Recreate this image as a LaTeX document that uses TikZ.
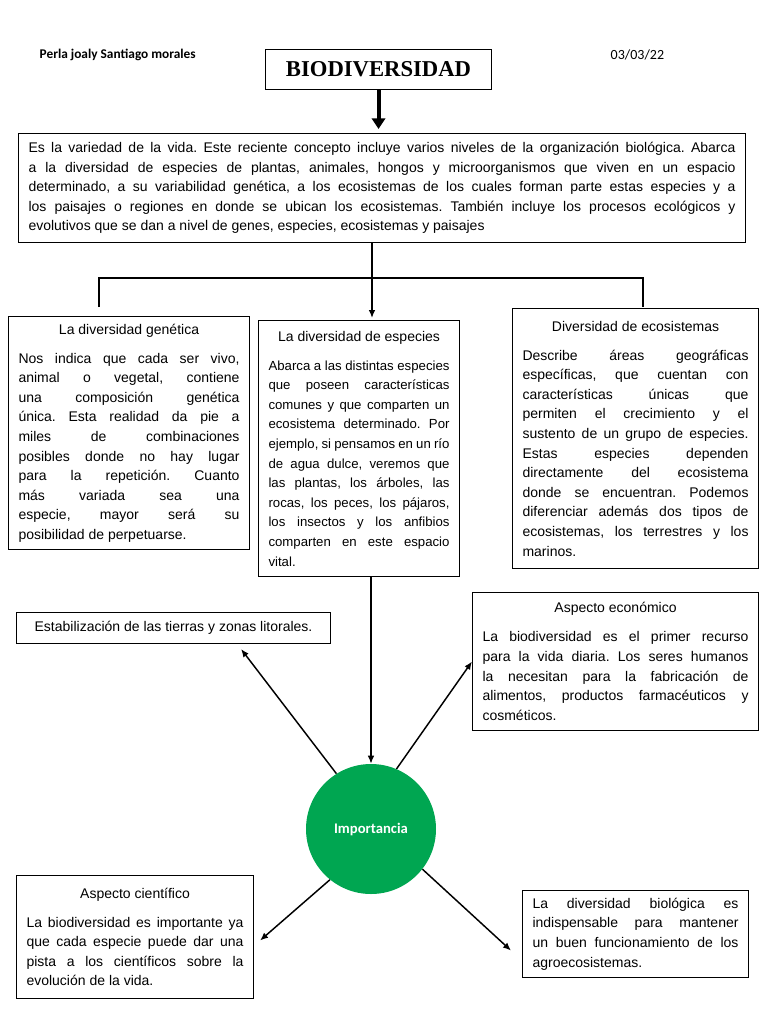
\documentclass[tikz,border=0pt]{standalone}
\usepackage{fontspec}
\setmainfont{Liberation Sans}
\newfontfamily\titlefont{Liberation Serif}
\newfontfamily\headfont{Carlito}
\usetikzlibrary{arrows.meta}
\definecolor{importgreen}{HTML}{00A651}
\hyphenpenalty=10000
\exhyphenpenalty=10000
\frenchspacing
\tikzset{
    text-box/.style = {draw=black, fill=white, line width=0.8pt, rectangle, anchor=north west, inner xsep=7.5pt, inner ysep=2pt, font=\fontsize{10.5}{14.7}\selectfont},
    head-text/.style = {anchor=west, font=\headfont\fontsize{10.5}{12}\selectfont},
    link/.style = {line width=1.1pt},
    link-arrow/.style = {link, -{Latex[length=6pt,width=5pt]}},
}
\newcommand{\boxhead}[1]{{\centering #1\par}\vspace{7pt}}

\begin{document}
\begin{tikzpicture}[x=0.75pt, y=-0.75pt]
\useasboundingbox (0,0) rectangle (768,1024);

\node[head-text, font=\headfont\bfseries\fontsize{10}{12}\selectfont] (author) at (35,55) {Perla joaly Santiago morales};
\node[head-text] (date) at (606,55) {03/03/22};
\node[draw, line width=0.8pt, anchor=north west, minimum width=169.5pt, minimum height=30pt, font=\titlefont\bfseries\fontsize{17}{20}\selectfont] (title) at (265,49) {BIODIVERSIDAD};

\node[text-box, minimum height=81.75pt] (intro) at (18,133) {\begin{minipage}{530.25pt}
    Es la variedad de la vida. Este reciente concepto incluye varios niveles de la organización biológica. Abarca\linebreak
    a la diversidad de especies de plantas, animales, hongos y microorganismos que viven en un espacio\linebreak
    determinado, a su variabilidad genética, a los ecosistemas de los cuales forman parte estas especies y a\linebreak
    los paisajes o regiones en donde se ubican los ecosistemas. También incluye los procesos ecológicos y\linebreak
    evolutivos que se dan a nivel de genes, especies, ecosistemas y paisajes
\end{minipage}};

\node[text-box, minimum height=174.75pt] (genetic) at (8,316) {\begin{minipage}{165.75pt}
    \boxhead{La diversidad genética}
    Nos indica que cada ser vivo,\linebreak animal o vegetal, contiene\linebreak una composición genética\linebreak única. Esta realidad da pie a\linebreak miles de combinaciones\linebreak posibles donde no hay lugar\linebreak para la repetición. Cuanto\linebreak más variada sea una\linebreak especie, mayor será su\linebreak posibilidad de perpetuarse.
\end{minipage}};

\node[text-box, minimum height=192pt, font=\fontsize{9.9}{14.7}\selectfont] (species) at (258,320) {\begin{minipage}{135.75pt}
    \boxhead{\fontsize{10.5}{14.7}\selectfont La diversidad de especies}
    Abarca a las distintas especies\linebreak que poseen características\linebreak comunes y que comparten un\linebreak ecosistema determinado. Por\linebreak ejemplo, si pensamos en un río\linebreak de agua dulce, veremos que\linebreak las plantas, los árboles, las\linebreak rocas, los peces, los pájaros,\linebreak los insectos y los anfibios\linebreak comparten en este espacio\linebreak vital.
\end{minipage}};

\node[text-box, minimum height=195pt] (ecosystems) at (512,308) {\begin{minipage}{169.5pt}
    \boxhead{Diversidad de ecosistemas}
    Describe áreas geográficas\linebreak específicas, que cuentan con\linebreak características únicas que\linebreak permiten el crecimiento y el\linebreak sustento de un grupo de especies.\linebreak Estas especies dependen\linebreak directamente del ecosistema\linebreak donde se encuentran. Podemos\linebreak diferenciar además dos tipos de\linebreak ecosistemas, los terrestres y los\linebreak marinos.
\end{minipage}};

\node[text-box, minimum width=235.5pt, minimum height=23.25pt] (stab) at (16,612) {Estabilización de las tierras y zonas litorales.};

\node[text-box, minimum height=103.5pt] (economic) at (472,592) {\begin{minipage}{199.5pt}
    \boxhead{Aspecto económico}
    La biodiversidad es el primer recurso\linebreak para la vida diaria. Los seres humanos\linebreak la necesitan para la fabricación de\linebreak alimentos, productos farmacéuticos y\linebreak cosméticos.
\end{minipage}};

\node[circle, fill=importgreen, minimum size=97.5pt, inner sep=0pt, text=white, font=\headfont\bfseries\fontsize{11}{13}\selectfont] (imp) at (371,829) {Importancia};

\node[text-box, minimum height=92.25pt] (science) at (16,875) {\begin{minipage}{162.75pt}
    \boxhead{Aspecto científico}
    La biodiversidad es importante ya\linebreak que cada especie puede dar una\linebreak pista a los científicos sobre la\linebreak evolución de la vida.
\end{minipage}};

\node[text-box, minimum height=65.25pt] (agro) at (522,890) {\begin{minipage}{154.5pt}
    La diversidad biológica es\linebreak indispensable para mantener\linebreak un buen funcionamiento de los\linebreak agroecosistemas.
\end{minipage}};

% tree
\draw[line width=3pt, -{Triangle[width=10pt,length=8pt]}, shorten >=3pt] (title.south) -- (title.south |- intro.north);
\coordinate (split) at (372,278);
\coordinate (gen-drop) at (99,307);
\coordinate (eco-drop) at (643,307);
\draw[link-arrow, shorten >=1.5pt] (split |- intro.south) -- (split |- species.north);
\draw[link] (gen-drop) |- (split) -| (eco-drop);

% importance
\draw[link-arrow] (imp.north |- species.south) -- (imp.north);
\draw[link-arrow] (imp.122) -- ([shift={(-67.5pt,-3.75pt)}]stab.south east);
\draw[link-arrow] (imp.67) -- (economic.west);
\draw[link-arrow] (imp.231) -- ([shift={(4.5pt,-2.6pt)}]science.east);
\draw[link-arrow] (imp.322) -- ([shift={(-8.25pt,-12.4pt)}]agro.west);
\end{tikzpicture}
\end{document}
